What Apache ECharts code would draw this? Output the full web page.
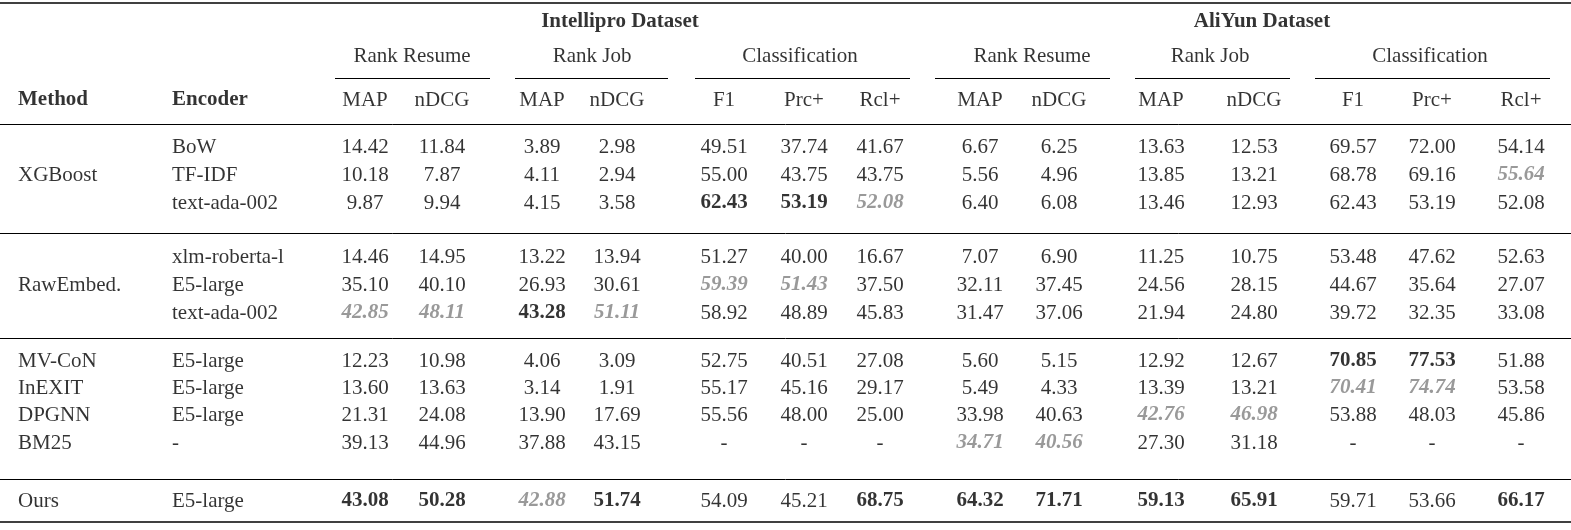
<!DOCTYPE html>
<html><head><meta charset="utf-8">
<script src="https://cdn.jsdelivr.net/npm/echarts@6/dist/echarts.min.js"></script>
<style>html,body{margin:0;padding:0;background:#fff}#c{width:1571px;height:530px}</style>
</head><body><div id="c"></div>
<script>
const methods = ["","XGBoost","","","RawEmbed.","","MV-CoN","InEXIT","DPGNN","BM25","Ours"];
const encoders = ["BoW","TF-IDF","text-ada-002","xlm-roberta-l","E5-large","text-ada-002","E5-large","E5-large","E5-large","-","E5-large"];
const columns = ["MAP","nDCG","MAP","nDCG","F1","Prc+","Rcl+","MAP","nDCG","MAP","nDCG","F1","Prc+","Rcl+"];
const datasets = ["Intellipro Dataset","AliYun Dataset"];
const tasks = ["Rank Resume","Rank Job","Classification","Rank Resume","Rank Job","Classification"];
const values = [
 ["14.42","11.84","3.89","2.98","49.51","37.74","41.67","6.67","6.25","13.63","12.53","69.57","72.00","54.14"],
 ["10.18","7.87","4.11","2.94","55.00","43.75","43.75","5.56","4.96","13.85","13.21","68.78","69.16","55.64"],
 ["9.87","9.94","4.15","3.58","62.43","53.19","52.08","6.40","6.08","13.46","12.93","62.43","53.19","52.08"],
 ["14.46","14.95","13.22","13.94","51.27","40.00","16.67","7.07","6.90","11.25","10.75","53.48","47.62","52.63"],
 ["35.10","40.10","26.93","30.61","59.39","51.43","37.50","32.11","37.45","24.56","28.15","44.67","35.64","27.07"],
 ["42.85","48.11","43.28","51.11","58.92","48.89","45.83","31.47","37.06","21.94","24.80","39.72","32.35","33.08"],
 ["12.23","10.98","4.06","3.09","52.75","40.51","27.08","5.60","5.15","12.92","12.67","70.85","77.53","51.88"],
 ["13.60","13.63","3.14","1.91","55.17","45.16","29.17","5.49","4.33","13.39","13.21","70.41","74.74","53.58"],
 ["21.31","24.08","13.90","17.69","55.56","48.00","25.00","33.98","40.63","42.76","46.98","53.88","48.03","45.86"],
 ["39.13","44.96","37.88","43.15","-","-","-","34.71","40.56","27.30","31.18","-","-","-"],
 ["43.08","50.28","42.88","51.74","54.09","45.21","68.75","64.32","71.71","59.13","65.91","59.71","53.66","66.17"]
];
// b = bold (best), g = grey bold italic (second best)
const emphasis = [
 "..............",
 ".............g",
 "....bbg.......",
 "..............",
 "....gg........",
 "ggbg..........",
 "...........bb.",
 "...........gg.",
 ".........gg...",
 ".......gg.....",
 "bbgb..bbbbb..b"
];

// layout (style, not data)
const colX = [365,442,542,617,724,804,880,980,1059,1161,1254,1353,1432,1521];
const rowY = [147,175,203,257,285,313,361,388,415,443,501];
const dsX = [620,1262], taskX=[412,592,800,1032,1210,1430];
const taskLines=[[335,490],[515,668],[695,910],[935,1110],[1135,1290],[1315,1550]];
const hLines=[[3,1.6],[124,1],[233,1],[338,1],[479,1],[522,1.6]];
const F='"Liberation Serif","DejaVu Serif",serif';

const pts=[];
function add(x,y,text,style,align){pts.push({value:[x,y],label:{formatter:'{'+style+'|'+text+'}',align:align||'center'}});}
datasets.forEach((d,i)=>add(dsX[i],22,d,'b'));
tasks.forEach((t,i)=>add(taskX[i],56,t,'n'));
add(18,100,'Method','b','left');add(172,100,'Encoder','b','left');
columns.forEach((c,i)=>add(colX[i],100,c,'n'));
values.forEach((row,r)=>{
  if(methods[r]) add(18,rowY[r],methods[r],'n','left');
  add(172,rowY[r],encoders[r],'n','left');
  row.forEach((v,c)=>{const e=emphasis[r][c];add(colX[c],rowY[r],v,e==='b'?'b':e==='g'?'g':'n');});
});
const lines=[];
hLines.forEach(([y,w])=>lines.push([{coord:[0,y],lineStyle:{width:w}},{coord:[1571,y]}]));
taskLines.forEach(([a,b])=>lines.push([{coord:[a,78]},{coord:[b,78]}]));

const chart=echarts.init(document.getElementById('c'));
chart.setOption({
  animation:false,
  grid:{left:0,right:0,top:0,bottom:0},
  xAxis:{type:'value',min:0,max:1571,show:false},
  yAxis:{type:'value',min:0,max:530,inverse:true,show:false},
  series:[{type:'scatter',symbolSize:0,data:pts,silent:true,
    label:{show:true,position:'inside',verticalAlign:'middle',
      rich:{n:{fontFamily:F,fontSize:21,color:'#000'},
            b:{fontFamily:F,fontSize:21,fontWeight:'bold',color:'#000'},
            g:{fontFamily:F,fontSize:21,fontWeight:'bold',fontStyle:'italic',color:'#808080'}}},
    markLine:{silent:true,symbol:'none',label:{show:false},lineStyle:{color:'#000',type:'solid',width:1},data:lines}
  }]
});
</script></body></html>
